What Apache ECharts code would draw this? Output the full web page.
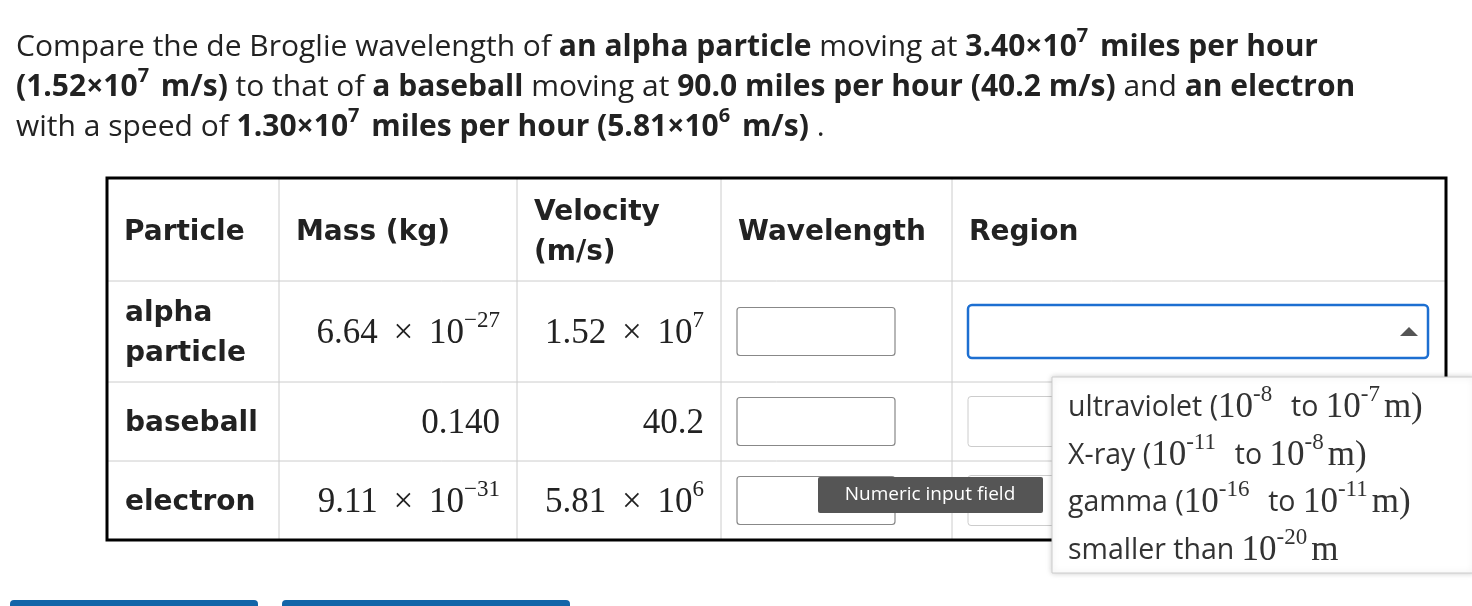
<!DOCTYPE html>
<html><head><meta charset="utf-8">
<script src="https://cdn.jsdelivr.net/npm/echarts@6/dist/echarts.min.js"></script>
<style>html,body{margin:0;background:#fff}#c{width:1472px;height:606px}</style>
</head><body><div id="c"></div>
<script>
// text runs: [text, style]; n normal, b bold, bs bold sup, m math, ms math sup
var questionLines = [
  [['Compare the de Broglie wavelength of ','n'],['an alpha particle','b'],[' moving at ','n'],['3.40×10','b'],['7','bs'],[' miles per hour','b']],
  [['(1.52×10','b'],['7','bs'],[' m/s)','b'],[' to that of ','n'],['a baseball','b'],[' moving at ','n'],['90.0 miles per hour (40.2 m/s)','b'],[' and ','n'],['an electron','b']],
  [['with a speed of ','n'],['1.30×10','b'],['7','bs'],[' miles per hour (5.81×10','b'],['6','bs'],[' m/s)','b'],[' .','n']]
];
var headers = ['Particle', 'Mass (kg)', 'Velocity\n(m/s)', 'Wavelength', 'Region'];
var particles = ['alpha\nparticle', 'baseball', 'electron'];
var masses = [[['6.64 \u2009×\u2009 10','m'],['−27','ms']], [['0.140','m']], [['9.11 \u2009×\u2009 10','m'],['−31','ms']]];
var velocities = [[['1.52 \u2009×\u2009 10','m'],['7','ms']], [['40.2','m']], [['5.81 \u2009×\u2009 10','m'],['6','ms']]];
var regions = [
  [['ultraviolet (','d'],['10','m'],['-8','ms'],['  to ','d'],['10','m'],['-7','ms'],['m)','m']],
  [['X-ray (','d'],['10','m'],['-11','ms'],['  to ','d'],['10','m'],['-8','ms'],['m)','m']],
  [['gamma (','d'],['10','m'],['-16','ms'],['  to ','d'],['10','m'],['-11','ms'],['m)','m']],
  [['smaller than ','d'],['10','m'],['-20','ms'],['m','m']]
];
var tooltipText = 'Numeric input field';

var SANS = '"Open Sans", sans-serif', SERIF = '"Liberation Serif", serif';
var styles = {
  n: {font: SANS, size: 30, weight: 'normal', dy: 0},
  b: {font: SANS, size: 30, weight: 'bold', dy: 0},
  bs: {font: SANS, size: 20, weight: 'bold', dy: -11},
  d: {font: SANS, size: 28.5, weight: 'normal', dy: 0},
  m: {font: SERIF, size: 35, weight: 'normal', dy: 0},
  ms: {font: SERIF, size: 23, weight: 'normal', dy: -13}
};
var ctx = document.createElement('canvas').getContext('2d');
function w(t, s) { ctx.font = s.weight + ' ' + s.size + 'px ' + s.font; return ctx.measureText(t).width; }
function runWidth(runs) { return runs.reduce(function (a, r) { return a + w(r[0], styles[r[1]]); }, 0); }
function run(x, y, runs, color, align) {
  if (align === 'right') x -= runWidth(runs);
  var out = [];
  runs.forEach(function (r) {
    var s = styles[r[1]];
    out.push({type: 'text', x: x, y: y + s.dy, style: {text: r[0], font: s.weight + ' ' + s.size + 'px ' + s.font,
      fill: color || '#222', verticalAlign: 'middle'}});
    x += w(r[0], s) + (s.dy ? 4 : 0);
  });
  return out;
}

var g = [];
questionLines.forEach(function (l, i) { g = g.concat(run(16, 47 + i * 40, l)); });

var colX = [107, 279, 517, 721, 952, 1446], rowY = [178, 281, 382, 461, 540];
for (var i = 1; i < 5; i++) g.push({type: 'line', shape: {x1: 107, y1: rowY[i], x2: 1446, y2: rowY[i]}, style: {stroke: '#ccc', lineWidth: 1}});
for (var j = 1; j < 5; j++) g.push({type: 'line', shape: {x1: colX[j], y1: 178, x2: colX[j], y2: 540}, style: {stroke: '#ccc', lineWidth: 1}});
g.push({type: 'rect', shape: {x: 107, y: 178, width: 1339, height: 362}, style: {fill: 'none', stroke: '#000', lineWidth: 3}});

var hdFont = 'bold 28px "DejaVu Sans", sans-serif';
headers.forEach(function (h, j) {
  g.push({type: 'text', x: colX[j] + 17, y: 233, style: {text: h, font: hdFont, fill: '#222', verticalAlign: 'middle', lineHeight: 40}});
});
particles.forEach(function (p, i) {
  var cy = (rowY[i + 1] + rowY[i + 2]) / 2;
  g.push({type: 'text', x: 125, y: cy + 2, style: {text: p, font: hdFont, fill: '#222', verticalAlign: 'middle', lineHeight: 40}});
  g = g.concat(run(500, cy + 2, masses[i], '#222', 'right'));
  g = g.concat(run(704, cy + 2, velocities[i], '#222', 'right'));
  g.push({type: 'rect', shape: {x: 737, y: cy - 24, width: 158, height: 48, r: 3}, style: {fill: '#fff', stroke: '#888', lineWidth: 1.2}});
  if (i > 0) g.push({type: 'rect', shape: {x: 968, y: cy - 25, width: 120, height: 50, r: 3}, style: {fill: '#fff', stroke: '#ccc', lineWidth: 1}});
});
// open dropdown
g.push({type: 'rect', shape: {x: 968, y: 305, width: 460, height: 53, r: 4}, style: {fill: '#fff', stroke: '#1d6fd1', lineWidth: 2.5}});
g.push({type: 'polygon', shape: {points: [[1400, 336], [1418, 336], [1409, 327]]}, style: {fill: '#555'}});
// tooltip
g.push({type: 'rect', shape: {x: 818, y: 477, width: 225, height: 36, r: 2}, style: {fill: '#555'}});
g.push({type: 'text', x: 930, y: 495, style: {text: tooltipText, font: '19px "Open Sans", sans-serif', fill: '#fff', align: 'center', verticalAlign: 'middle'}});
// option list
g.push({type: 'rect', shape: {x: 1052, y: 377, width: 422, height: 196}, style: {fill: '#fff', stroke: '#ccc', lineWidth: 1, shadowBlur: 6, shadowColor: 'rgba(0,0,0,0.2)'}});
regions.forEach(function (r, i) { g = g.concat(run(1068, 408 + i * 47.5, r, '#333')); });
// bottom buttons
g.push({type: 'rect', shape: {x: 10, y: 600, width: 248, height: 20, r: 4}, style: {fill: '#1265a8'}});
g.push({type: 'rect', shape: {x: 282, y: 600, width: 288, height: 20, r: 4}, style: {fill: '#1265a8'}});

var chart = echarts.init(document.getElementById('c'));
chart.setOption({animation: false, graphic: {elements: g}});
</script></body></html>
